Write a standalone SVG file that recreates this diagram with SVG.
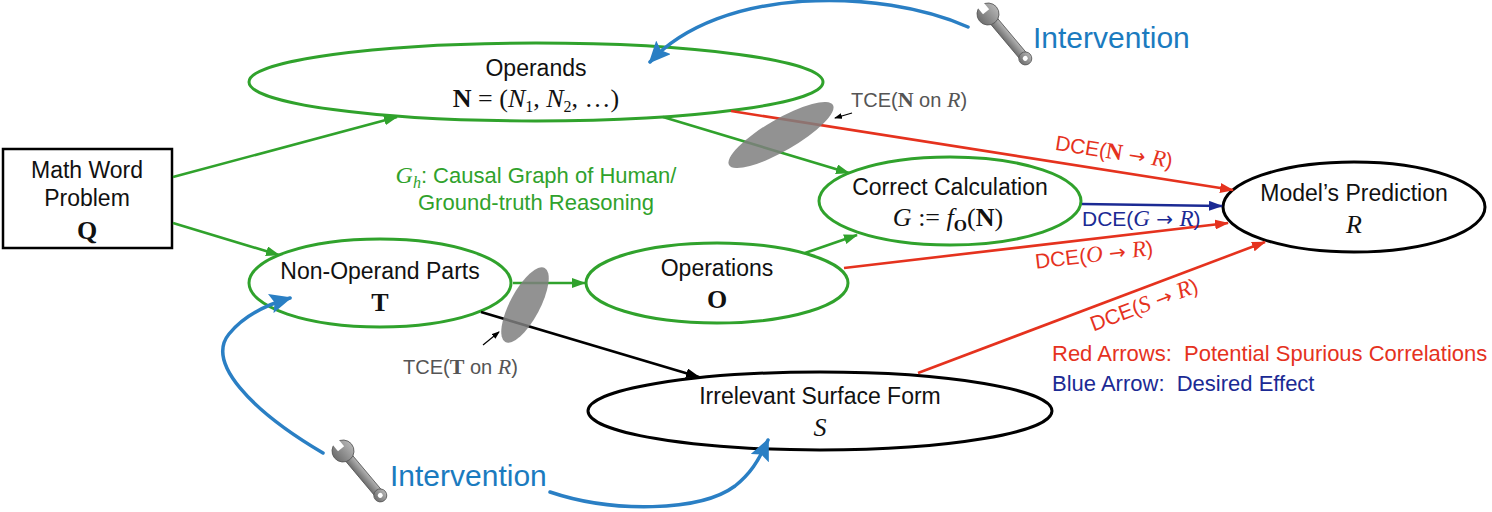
<svg xmlns="http://www.w3.org/2000/svg" xmlns:xlink="http://www.w3.org/1999/xlink" width="1492" height="512" viewBox="0 0 1492 512">
<defs>
<style>
.sans{font-family:"Liberation Sans","Helvetica",Arial,sans-serif;}
.lbl{font-family:"Liberation Sans",Arial,sans-serif;font-size:23px;fill:#111;text-anchor:middle;}
.math{font-family:"Liberation Serif","Times New Roman",serif;font-size:26px;fill:#111;text-anchor:middle;}
.gnode{fill:none;stroke:#30a22c;stroke-width:3;}
.knode{fill:none;stroke:#000;stroke-width:3;}
.eg{stroke:#30a22c;stroke-width:2.6;fill:none;marker-end:url(#mg);}
.er{stroke:#e5321e;stroke-width:2.6;fill:none;marker-end:url(#mr);}
.eb{stroke:#1b2a94;stroke-width:2.6;fill:none;marker-end:url(#mb);}
.ek{stroke:#000;stroke-width:2.6;fill:none;marker-end:url(#mk);}
.blue{stroke:#2a7fc4;stroke-width:3.5;fill:none;stroke-linecap:round;marker-end:url(#mbl);}
.tce{fill:#7f7f7f;opacity:0.85;}
.dce{font-family:"Liberation Sans",Arial,sans-serif;font-size:21px;}
.tcel{font-family:"Liberation Sans",Arial,sans-serif;font-size:20px;fill:#555;}
.interv{font-family:"Liberation Sans",Arial,sans-serif;font-size:30px;fill:#1b7bbf;}
.b{font-family:"Liberation Serif","Times New Roman",serif;font-weight:bold;}
.i{font-family:"Liberation Serif","Times New Roman",serif;font-style:italic;}
.arr{font-family:"DejaVu Sans",sans-serif;font-size:20px;}
</style>
<marker id="mg" viewBox="0 0 14 10" refX="13" refY="5" markerWidth="14" markerHeight="10" markerUnits="userSpaceOnUse" orient="auto"><path d="M0,0 L14,5 L0,10 Z" fill="#30a22c"/></marker>
<marker id="mr" viewBox="0 0 14 10" refX="13" refY="5" markerWidth="14" markerHeight="10" markerUnits="userSpaceOnUse" orient="auto"><path d="M0,0 L14,5 L0,10 Z" fill="#e5321e"/></marker>
<marker id="mb" viewBox="0 0 14 10" refX="13" refY="5" markerWidth="14" markerHeight="10" markerUnits="userSpaceOnUse" orient="auto"><path d="M0,0 L14,5 L0,10 Z" fill="#1b2a94"/></marker>
<marker id="mk" viewBox="0 0 14 10" refX="13" refY="5" markerWidth="14" markerHeight="10" markerUnits="userSpaceOnUse" orient="auto"><path d="M0,0 L14,5 L0,10 Z" fill="#000"/></marker>
<marker id="mks" viewBox="0 0 8 6" refX="7" refY="3" markerWidth="8" markerHeight="6" markerUnits="userSpaceOnUse" orient="auto"><path d="M0,0 L8,3 L0,6 Z" fill="#000"/></marker>
<marker id="mbl" viewBox="0 0 22 20" refX="20" refY="10" markerWidth="22" markerHeight="20" markerUnits="userSpaceOnUse" orient="auto"><path d="M0,0 L22,10 L0,20 L4,10 Z" fill="#2a7fc4"/></marker>
<linearGradient id="wg" x1="0" y1="0" x2="0" y2="1"><stop offset="0" stop-color="#b5b5b5"/><stop offset="1" stop-color="#6d6d6d"/></linearGradient>
<g id="wrench">
<rect x="4" y="-4.5" width="56" height="9" rx="4.5" fill="url(#wg)" stroke="#555" stroke-width="0.8"/>
<circle cx="58" cy="0" r="6.5" fill="url(#wg)" stroke="#555" stroke-width="0.8"/>
<circle cx="58" cy="0" r="2.5" fill="#fff"/>
<circle cx="0" cy="0" r="11" fill="url(#wg)" stroke="#555" stroke-width="0.8"/>
<path d="M-13,-4 L-3,-4 L-3,4 L-13,4 Z" fill="#fff"/>
</g>
</defs>
<rect width="1492" height="512" fill="#fff"/>

<g id="node-Q">
<rect x="3" y="149" width="169" height="99" fill="#fff" stroke="#000" stroke-width="2.5"/>
<text class="lbl" x="87" y="178">Math Word</text>
<text class="lbl" x="87" y="206">Problem</text>
<text class="math" x="87" y="239" font-weight="bold" font-size="28">Q</text>
</g>

<g id="node-N">
<ellipse class="gnode" cx="536" cy="82" rx="287" ry="39"/>
<text class="lbl" x="536" y="76">Operands</text>
<text class="math" x="536" y="107" font-size="25"><tspan class="b">N</tspan> = (<tspan class="i">N</tspan><tspan font-size="16" dy="5">1</tspan><tspan dy="-5">, </tspan><tspan class="i">N</tspan><tspan font-size="16" dy="5">2</tspan><tspan dy="-5">, …)</tspan></text>
</g>

<g id="node-T">
<ellipse class="gnode" cx="380" cy="283" rx="131" ry="44"/>
<text class="lbl" x="380" y="279">Non-Operand Parts</text>
<text class="math" x="380" y="311" font-weight="bold">T</text>
</g>

<g id="node-O">
<ellipse class="gnode" cx="717" cy="283" rx="131" ry="40"/>
<text class="lbl" x="717" y="276">Operations</text>
<text class="math" x="717" y="308" font-weight="bold">O</text>
</g>

<g id="node-G">
<ellipse class="gnode" cx="950" cy="201" rx="131" ry="44"/>
<text class="lbl" x="950" y="195">Correct Calculation</text>
<text class="math" x="948" y="226"><tspan class="i">G</tspan> := <tspan class="i">f</tspan><tspan class="b" font-size="17" dy="5">O</tspan><tspan dy="-5">(</tspan><tspan class="b">N</tspan>)</text>
</g>

<g id="node-S">
<ellipse class="knode" cx="820" cy="411" rx="232" ry="39"/>
<text class="lbl" x="820" y="404">Irrelevant Surface Form</text>
<text class="math" x="820" y="436" font-style="italic">S</text>
</g>

<g id="node-R">
<ellipse class="knode" cx="1354" cy="207" rx="131" ry="45"/>
<text class="lbl" x="1354" y="201">Model’s Prediction</text>
<text class="math" x="1354" y="233" font-style="italic">R</text>
</g>

<g id="connectors">
<line class="eg" x1="173" y1="177" x2="397" y2="117"/>
<line class="eg" x1="173" y1="223" x2="279" y2="255"/>
<line class="eg" x1="663" y1="117" x2="849" y2="173"/>
<line class="eg" x1="513" y1="283" x2="585" y2="283"/>
<line class="eg" x1="805" y1="253" x2="857" y2="235"/>
<line class="ek" x1="481" y1="312" x2="699" y2="377"/>
<line class="er" x1="731" y1="111" x2="1233" y2="190"/>
<line class="eb" x1="1082" y1="204" x2="1222" y2="206"/>
<line class="er" x1="844" y1="268" x2="1228" y2="223"/>
<line class="er" x1="918" y1="373" x2="1265" y2="242"/>
<path class="blue" d="M968,27 C880,-12 720,-14 650,62"/>
<path class="blue" d="M323,453 C250,410 206,362 229,334 C242,318 262,306 290,298"/>
<path class="blue" d="M550,492 C612,513 700,512 735,486 C750,474 758,462 768,440"/>
<line x1="852" y1="113" x2="835" y2="118" stroke="#000" stroke-width="1.2" marker-end="url(#mks)"/>
<line x1="483" y1="345" x2="499" y2="332" stroke="#000" stroke-width="1.2" marker-end="url(#mks)"/>
</g>

<g id="tce">
<ellipse class="tce" cx="781" cy="135" rx="60" ry="16" transform="rotate(-30 781 135)"/>
<ellipse class="tce" cx="525" cy="305" rx="42" ry="15" transform="rotate(-62 525 305)"/>
<text class="tcel" x="851" y="107">TCE(<tspan class="b" font-size="22">N</tspan> on <tspan class="i" font-size="22">R</tspan>)</text>
<text class="tcel" x="403" y="374">TCE(<tspan class="b" font-size="22">T</tspan> on <tspan class="i" font-size="22">R</tspan>)</text>
</g>

<g id="labels">
<text class="sans" x="536" y="183" font-size="22" fill="#30a22c" text-anchor="middle"><tspan class="i" font-size="24">G</tspan><tspan class="i" font-size="16" dy="5">h</tspan><tspan dy="-5">: Causal Graph of Human/</tspan></text>
<text class="sans" x="536" y="210" font-size="22" fill="#30a22c" text-anchor="middle">Ground-truth Reasoning</text>
<text class="dce" fill="#e5321e" text-anchor="middle" transform="translate(1114 152) rotate(8.8)" y="7">DCE(<tspan class="b" font-size="23">N</tspan><tspan class="arr"> → </tspan><tspan class="i" font-size="23">R</tspan>)</text>
<text class="dce" fill="#1b2a94" x="1082" y="226">DCE(<tspan class="i" font-size="23">G</tspan><tspan class="arr"> → </tspan><tspan class="i" font-size="23">R</tspan>)</text>
<text class="dce" fill="#e5321e" text-anchor="middle" transform="translate(1094 255) rotate(-6.7)" y="7">DCE(<tspan class="i" font-size="23">O</tspan><tspan class="arr"> → </tspan><tspan class="i" font-size="23">R</tspan>)</text>
<text class="dce" fill="#e5321e" text-anchor="middle" transform="translate(1144 305) rotate(-20.7)" y="7">DCE(<tspan class="i" font-size="23">S</tspan><tspan class="arr"> → </tspan><tspan class="i" font-size="23">R</tspan>)</text>
<text class="sans" x="1052" y="361" font-size="22" fill="#e5321e" xml:space="preserve">Red Arrows:  Potential Spurious Correlations</text>
<text class="sans" x="1052" y="391" font-size="22" fill="#1b2a94" xml:space="preserve">Blue Arrow:  Desired Effect</text>
</g>

<g id="intervention-top">
<use xlink:href="#wrench" href="#wrench" transform="translate(988 14) rotate(50)"/>
<text class="interv" x="1033" y="48">Intervention</text>
</g>
<g id="intervention-bottom">
<use xlink:href="#wrench" href="#wrench" transform="translate(343 451) rotate(50)"/>
<text class="interv" x="390" y="486">Intervention</text>
</g>
</svg>
